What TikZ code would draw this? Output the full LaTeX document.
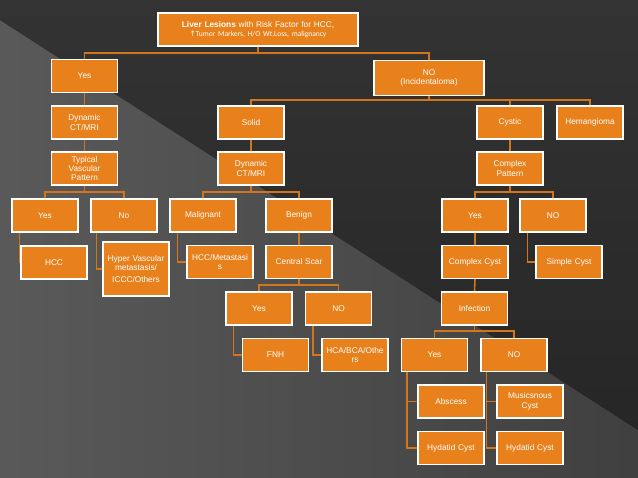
\documentclass[tikz,border=0pt]{standalone}
\usepackage{fontspec}
\setmainfont{Liberation Sans}
\pgfdeclarelayer{bg}
\pgfsetlayers{bg,main}
\begin{document}
\begin{tikzpicture}[x=1pt,y=1pt,
 box/.style={draw=white,line width=1.1pt,fill=boxor,text=white,minimum width=66pt,minimum height=33pt,inner sep=1pt,align=center,font=\fontsize{8.3}{9.3}\selectfont,text width=64pt},
 ln/.style={draw=lnor,line width=1.6pt}]
\definecolor{boxor}{HTML}{E8811C}
\definecolor{lnor}{HTML}{D2751C}
\useasboundingbox (0,0) rectangle (638,-478);
\node[box,minimum width=200pt,text width=198pt] (root) at (258,-29.5) {\textbf{Liver Lesions} with Risk Factor for HCC,\\[-1pt]{\fontsize{7.3}{8}\selectfont\fontspec{DejaVu Sans}↑}{\fontsize{7.5}{8}\selectfont\fontspec{Carlito}Tumor Markers, H/O Wt.Loss, malignancy}};
\node[box] (yes) at (84.5,-76) {Yes};
\node[box,minimum width=110pt,text width=108pt,minimum height=35pt] (no) at (429,-78) {NO\\(Incidentaloma)};
\node[box] (dyn1) at (84.5,-122.5) {Dynamic\\CT/MRI};
\node[box] (typ) at (84.5,-168.5) {Typical\\Vascular\\Pattern};
\node[box] (yes2) at (45,-215.5) {Yes};
\node[box] (no2) at (124,-215.5) {No};
\node[box] (hcc) at (54,-262.5) {HCC};
\node[box,minimum height=54pt] (hyper) at (136,-269) {Hyper Vascular\\metastasis/\\[3pt]ICCC/Others};
\node[box] (solid) at (251,-122.5) {Solid};
\node[box] (dyn2) at (251,-168.5) {Dynamic\\CT/MRI};
\node[box] (mal) at (203,-215.5) {Malignant};
\node[box] (ben) at (299,-215.5) {Benign};
\node[box] (hccm) at (220,-262) {HCC/Metastasi\\s};
\node[box] (cscar) at (299,-262) {Central Scar};
\node[box] (yes3) at (259,-308.5) {Yes};
\node[box] (no3) at (338.5,-308.5) {NO};
\node[box] (fnh) at (275.5,-355) {FNH};
\node[box] (hca) at (355,-355) {HCA/BCA/Othe\\rs};
\node[box] (cystic) at (510,-122.5) {Cystic};
\node[box] (hem) at (590,-122.5) {Hemangioma};
\node[box] (cpat) at (510,-168.5) {Complex\\Pattern};
\node[box] (yes5) at (475,-215.5) {Yes};
\node[box] (no5) at (553,-215.5) {NO};
\node[box] (ccyst) at (475,-262) {Complex Cyst};
\node[box] (simple) at (569,-262) {Simple Cyst};
\node[box] (inf) at (474.5,-308.5) {Infection};
\node[box] (yes4) at (434.5,-355) {Yes};
\node[box] (no4) at (514,-355) {NO};
\node[box] (abs) at (451,-401.5) {Abscess};
\node[box] (mus) at (530,-401.5) {Musicsnous\\Cyst};
\node[box] (hyd1) at (451,-448) {Hydatid Cyst};
\node[box] (hyd2) at (530,-448) {Hydatid Cyst};
\begin{pgfonlayer}{bg}
\fill[black!85] (0,0) rectangle (638,-478);
\shade[left color=black!65,right color=black!75] (0,-20) -- (638,-430) -- (638,-478) -- (0,-478) -- cycle;
\shade[top color=black!80,bottom color=black!85] (0,0) -- (638,0) -- (638,-430) -- (0,-20) -- cycle;
\path[ln] (root.south) -- (258,-53) -| (yes.north);
\path[ln] (258,-53) -| (no.north);
\path[ln] (no.south) -- (429,-100) -| (solid.north);
\path[ln] (429,-100) -| (cystic.north);
\path[ln] (429,-100) -| (hem.north);
\path[ln] (yes.south) -- (dyn1.north);
\path[ln] (dyn1.south) -- (typ.north);
\path[ln] (typ.south) -- (84.5,-192) -| (yes2.north);
\path[ln] (84.5,-192) -| (no2.north);
\path[ln] ([xshift=8pt]yes2.south west) |- (hcc.west);
\path[ln] ([xshift=6pt]no2.south west) |- (hyper.west);
\path[ln] (solid.south) -- (dyn2.north);
\path[ln] (dyn2.south) -- (251,-192) -| (mal.north);
\path[ln] (251,-192) -| (ben.north);
\path[ln] ([xshift=8pt]mal.south west) |- (hccm.west);
\path[ln] (ben.south) -- (cscar.north);
\path[ln] (cscar.south) -- (299,-285) -| (yes3.north);
\path[ln] (299,-285) -| (no3.north);
\path[ln] ([xshift=8pt]yes3.south west) |- (fnh.west);
\path[ln] ([xshift=8pt]no3.south west) |- (hca.west);
\path[ln] (cystic.south) -- (cpat.north);
\path[ln] (cpat.south) -- (510,-192) -| (yes5.north);
\path[ln] (510,-192) -| (no5.north);
\path[ln] (yes5.south) -- (ccyst.north);
\path[ln] ([xshift=8pt]no5.south west) |- (simple.west);
\path[ln] (ccyst.south) -- (inf.north);
\path[ln] (inf.south) -- (474.5,-331) -| (yes4.north);
\path[ln] (474.5,-331) -| (no4.north);
\path[ln] ([xshift=6pt]yes4.south west) |- (hyd1.west);
\path[ln] ([xshift=6pt]yes4.south west) |- (abs.west);
\path[ln] ([xshift=6pt]no4.south west) |- (hyd2.west);
\path[ln] ([xshift=6pt]no4.south west) |- (mus.west);
\end{pgfonlayer}
\end{tikzpicture}
\end{document}
